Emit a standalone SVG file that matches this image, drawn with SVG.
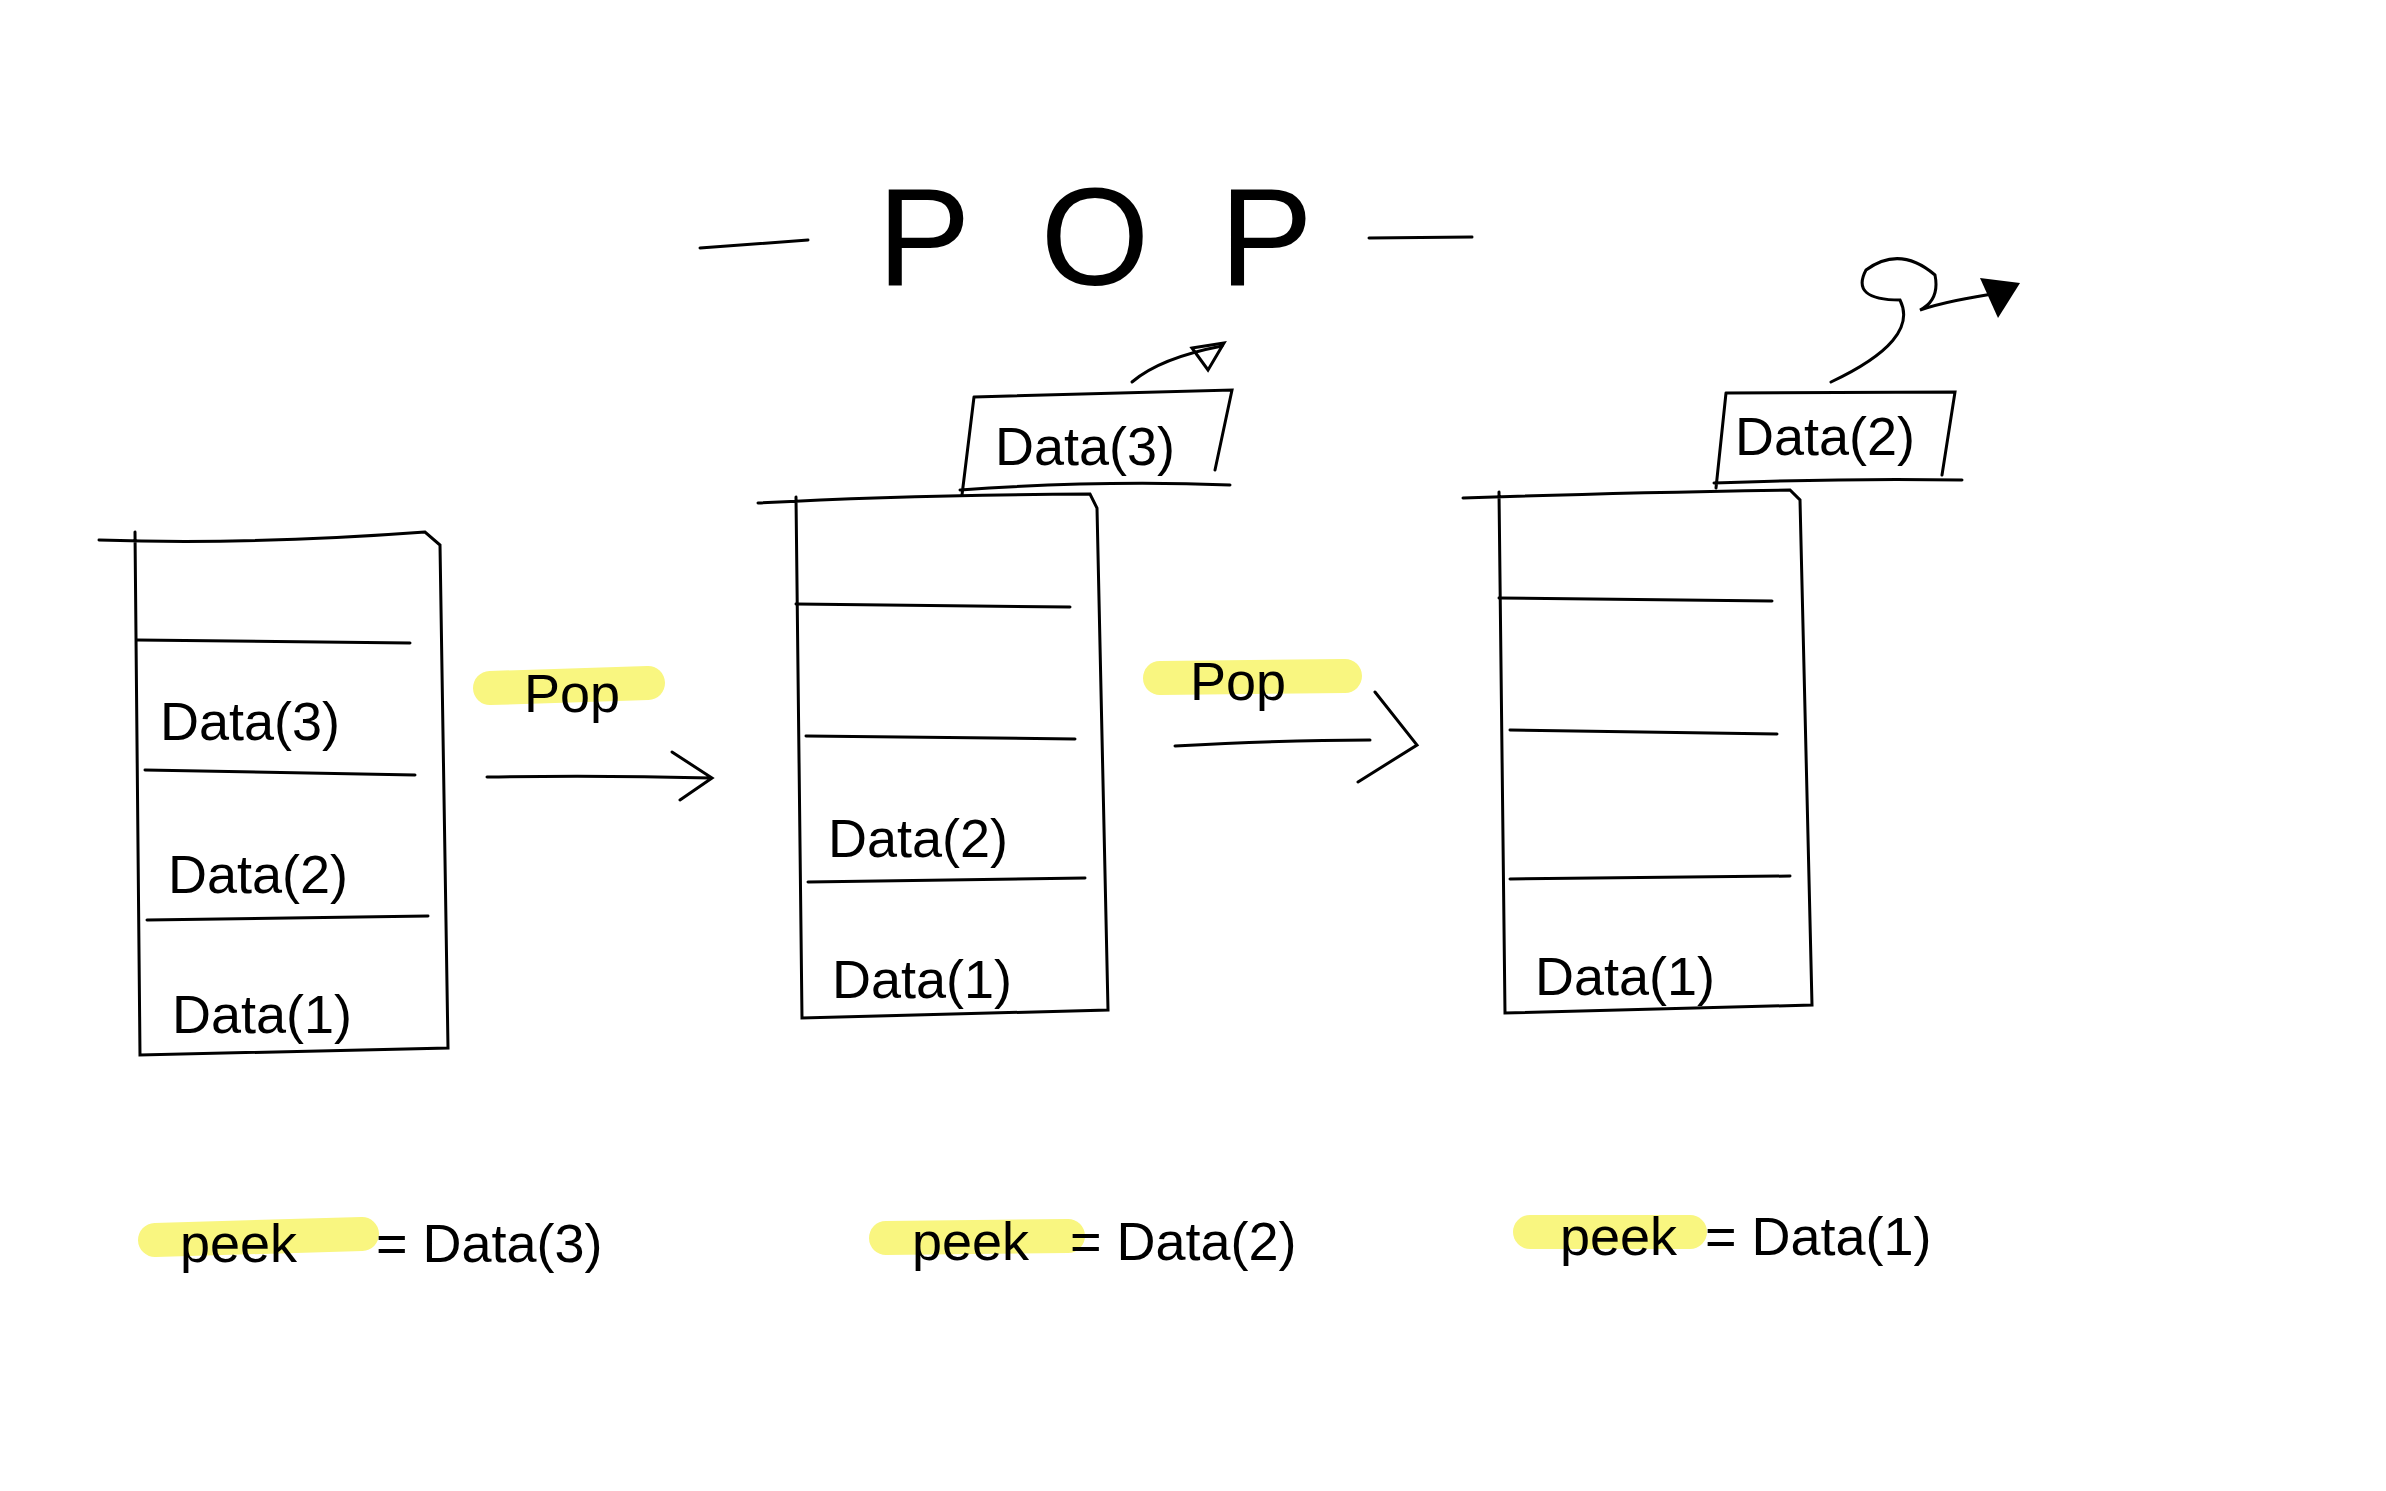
<svg xmlns="http://www.w3.org/2000/svg" width="2386" height="1491" viewBox="0 0 2386 1491">
<style>
.l{fill:none;stroke:#000;stroke-width:3;stroke-linecap:round}
.t{font-family:"Liberation Sans",sans-serif;font-size:54px;fill:#000}
.s{font-family:"Liberation Sans",sans-serif;fill:#000;text-anchor:middle}
.h{stroke:#f8f56a;stroke-width:34;stroke-linecap:round;opacity:0.85}
</style>
<rect width="2386" height="1491" fill="#fff"/>
<g id="title">
<line class="l" x1="700" y1="248" x2="808" y2="240"/>
<line class="l" x1="1369" y1="238" x2="1472" y2="237"/>
<text x="1130" y="285" class="s" style="font-size:140px;letter-spacing:70px">POP</text>
</g>
<g id="stack1">
<path class="l" d="M99 540 Q250 545 425 532 L440 545 L448 1048 L140 1055 L135 532"/>
<line class="l" x1="137" y1="640" x2="410" y2="643"/>
<line class="l" x1="145" y1="770" x2="415" y2="775"/>
<line class="l" x1="147" y1="920" x2="428" y2="916"/>
<text class="t" x="160" y="740">Data(3)</text>
<text class="t" x="168" y="893">Data(2)</text>
<text class="t" x="172" y="1033">Data(1)</text>
</g>
<g id="stack2">
<path class="l" d="M758 503 Q900 495 1090 494 L1097 508 L1108 1010 L802 1018 L796 497"/>
<line class="l" x1="796" y1="604" x2="1070" y2="607"/>
<line class="l" x1="806" y1="736" x2="1075" y2="739"/>
<line class="l" x1="808" y1="882" x2="1085" y2="878"/>
<text class="t" x="828" y="857">Data(2)</text>
<text class="t" x="832" y="998">Data(1)</text>
<path class="l" d="M974 397 L1232 390 L1215 470 M962 495 L974 397 M960 490 Q1100 480 1230 485"/>
<text class="t" x="995" y="465">Data(3)</text>
</g>
<g id="stack3">
<path class="l" d="M1463 498 Q1600 493 1790 490 L1800 500 L1812 1005 L1505 1013 L1499 492"/>
<line class="l" x1="1499" y1="598" x2="1772" y2="601"/>
<line class="l" x1="1510" y1="730" x2="1777" y2="734"/>
<line class="l" x1="1510" y1="879" x2="1790" y2="876"/>
<text class="t" x="1535" y="995">Data(1)</text>
<path class="l" d="M1726 393 L1955 392 L1942 475 M1716 488 L1726 393 M1714 483 Q1850 478 1962 480"/>
<text class="t" x="1735" y="455">Data(2)</text>
</g>
<g id="connectors">
<line class="h" x1="490" y1="688" x2="648" y2="683"/>
<text class="t" x="524" y="712">Pop</text>
<path class="l" d="M487 777 Q600 775 711 778 M672 752 L712 778 L680 800"/>
<line class="h" x1="1160" y1="678" x2="1345" y2="676"/>
<text class="t" x="1190" y="700">Pop</text>
<path class="l" d="M1175 746 Q1290 740 1370 740 M1375 692 L1417 745 L1358 782"/>
<path class="l" d="M1132 382 Q1160 358 1222 346"/>
<polygon points="1192,348 1224,343 1208,370" fill="none" stroke="#000" stroke-width="3"/>
<path class="l" d="M1831 382 Q1920 340 1900 300 Q1850 300 1866 270 Q1900 245 1935 275 Q1940 300 1920 310 Q1950 300 2000 293"/>
<polygon points="1980,278 2020,283 1998,318" fill="#000"/>
</g>
<g id="peek">
<line class="h" x1="155" y1="1240" x2="362" y2="1234"/>
<text class="t" x="180" y="1262">peek</text>
<text class="t" x="376" y="1262">= Data(3)</text>
<line class="h" x1="886" y1="1238" x2="1068" y2="1236"/>
<text class="t" x="912" y="1260">peek</text>
<text class="t" x="1070" y="1260">= Data(2)</text>
<line class="h" x1="1530" y1="1232" x2="1690" y2="1232"/>
<text class="t" x="1560" y="1255">peek</text>
<text class="t" x="1705" y="1255">= Data(1)</text>
</g>
</svg>
